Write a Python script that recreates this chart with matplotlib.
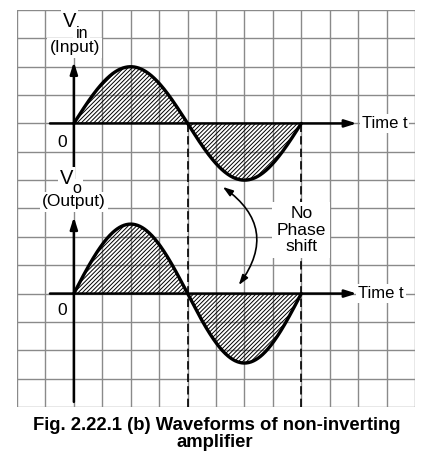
import numpy as np
import matplotlib
matplotlib.use("Agg")
import matplotlib.pyplot as plt

plt.rcParams['font.family'] = ['Liberation Sans', 'DejaVu Sans']
plt.rcParams['hatch.linewidth'] = 0.7

# grid of 14 x 14 squares, time origin on the 3rd vertical line
grid_x = np.arange(-2, 13)
grid_y = np.arange(0, 15)

# waveform parameters (grid units)
period = 8.0
cycles = 1
vin_base, vin_amp = 10.0, 2.0
vo_base, vo_amp = 4.0, 2.45
zero_cross = [4.0, 8.0]

t = np.linspace(0, period * cycles, 400)
vin = vin_base + vin_amp * np.sin(2 * np.pi * t / period)
vo = vo_base + vo_amp * np.sin(2 * np.pi * t / period)

fig = plt.figure(figsize=(4.29, 4.61), dpi=100)
W, H = 429.0, 461.0
ax = fig.add_axes([17 / W, 1 - 407 / H, (415 - 17) / W, (407 - 10) / H])
ax.set_xlim(grid_x[0], grid_x[-1])
ax.set_ylim(grid_y[0], grid_y[-1])
ax.axis('off')

gc = '#8a8a8a'
for gx in grid_x:
    ax.axvline(gx, color=gc, lw=1.0, zorder=0)
for gy in grid_y:
    ax.axhline(gy, color=gc, lw=1.0, zorder=0)

# hatched halves
for base, v in [(vin_base, vin), (vo_base, vo)]:
    ax.fill_between(t, base, v, facecolor='none', edgecolor='black',
                    hatch='////////', linewidth=0, zorder=2)
    ax.plot(t, v, color='black', lw=2.4, zorder=4, solid_capstyle='round')

# dashed markers at zero crossings
for zc in zero_cross:
    ax.plot([zc, zc], [0, vin_base], color='black', lw=1.2,
            dashes=(5, 2.5), zorder=3)

# axes with arrows
ax_kw = dict(arrowstyle='-|>,head_length=0.7,head_width=0.22',
             color='black', lw=1.8, shrinkA=0, shrinkB=0)
for base in [vin_base, vo_base]:
    ax.annotate('', xy=(9.95, base), xytext=(-0.84, base),
                arrowprops=ax_kw, zorder=5)
ax.annotate('', xy=(0, 12.17), xytext=(0, 8.46), arrowprops=ax_kw, zorder=5)
ax.annotate('', xy=(0, 6.7), xytext=(0, 0.18), arrowprops=ax_kw, zorder=5)

box = dict(facecolor='white', edgecolor='none', pad=1.5)
fs = 12.5


def vlabel(x, y, sub, dy):
    # big V with a white box, subscript on top of its own white box
    ax.text(x - 0.02, y - dy, sub, fontsize=11.5, ha='left', va='center',
            color='white', bbox=box, zorder=5.9)
    ax.text(x, y, 'V', fontsize=14.5, ha='right', va='center',
            bbox=box, zorder=6)
    ax.text(x - 0.02, y - dy, sub, fontsize=11.5, ha='left', va='center',
            zorder=7)


vlabel(0.08, 13.58, 'in', 0.41)
vlabel(-0.03, 8.05, 'o', 0.33)
ax.text(0.03, 12.66, '(Input)', fontsize=fs, ha='center', va='center',
        bbox=box, zorder=6)
ax.text(0.0, 7.23, '(Output)', fontsize=fs, ha='center', va='center',
        bbox=box, zorder=6)
ax.text(-0.42, 9.31, '0', fontsize=fs, ha='center', va='center', zorder=6)
ax.text(-0.42, 3.42, '0', fontsize=fs, ha='center', va='center', zorder=6)
ax.text(10.13, vin_base, 'Time t', fontsize=12, ha='left', va='center',
        bbox=box, zorder=6)
ax.text(10.0, vo_base, 'Time t', fontsize=12, ha='left', va='center',
        bbox=box, zorder=6)
ax.text(8.0, 6.24, 'No\nPhase\nshift', fontsize=fs, ha='center',
        va='center', linespacing=1.1, bbox=dict(facecolor='white',
        edgecolor='none', pad=3), zorder=6)

ax.annotate('', xy=(5.8, 4.3), xytext=(5.24, 7.76),
            arrowprops=dict(arrowstyle='<|-|>,head_length=0.6,head_width=0.2',
                            color='black', lw=1.2, shrinkA=0, shrinkB=0,
                            connectionstyle='arc3,rad=-0.5'), zorder=6)

fig.text(217 / W, 1 - 425 / H, 'Fig. 2.22.1 (b) Waveforms of non-inverting',
         fontsize=13.3, fontweight='bold', ha='center', va='center')
fig.text(215 / W, 1 - 442 / H, 'amplifier', fontsize=13.3, fontweight='bold',
         ha='center', va='center')

fig.savefig('out.png', dpi=100)
